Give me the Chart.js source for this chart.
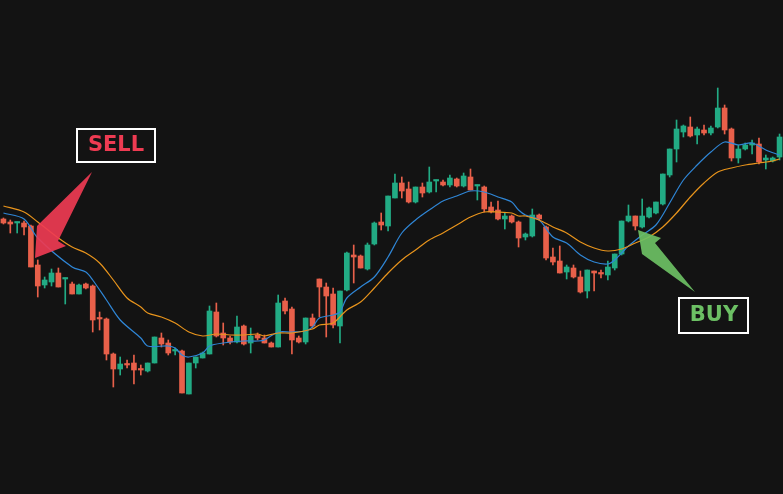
<!DOCTYPE html>
<html><head><meta charset="utf-8">
<script src="https://cdn.jsdelivr.net/npm/chart.js@4.4.1/dist/chart.umd.min.js"></script>
<style>html,body{margin:0;padding:0;background:#131313;overflow:hidden}canvas{display:block}</style>
</head><body><canvas id="c" width="783" height="494"></canvas>
<script>
// OHLC candles (price units)
const opens  = [281,278,277,277,274,235,215,218,227,221,216,206,216,214,182,181,146,131,136,137,131,129,137,162,157,149,149,106,137,142,146,188,167,162,158,174,157,165,162,157,153,199,191,162,158,182,221,213,206,174,210,245,244,231,256,278,274,302,317,311,298,313,308,319,318,315,321,314,323,314,313,293,290,281,284,278,263,264,285,273,243,239,228,232,223,209,229,227,225,232,246,279,284,273,283,287,296,325,351,368,373,365,370,367,373,392,371,342,351,355,356,340,339,343];
const highs  = [282,280,278,279,275,240,223,231,232,222,218,216,217,215,188,182,147,143,140,145,135,137,163,167,160,152,150,137,143,148,194,197,177,164,184,175,172,167,165,158,205,202,193,164,182,186,221,217,212,209,248,255,245,257,278,287,304,326,323,318,313,317,333,320,320,325,322,327,331,315,314,298,299,287,285,279,267,291,286,274,252,254,235,235,229,230,229,230,239,246,279,295,284,301,293,298,326,351,380,375,383,373,375,374,412,395,372,355,357,360,362,345,343,366];
const lows   = [276,267,267,265,233,203,212,214,213,196,206,206,211,168,170,140,113,125,132,116,125,128,137,153,145,145,107,106,132,142,146,163,155,156,157,155,147,160,157,153,153,186,146,157,156,172,183,163,172,157,209,217,232,230,255,270,269,302,302,297,297,303,307,308,314,313,313,313,310,300,288,287,280,271,277,253,260,263,280,240,235,227,221,222,207,202,209,222,220,230,245,278,270,272,282,286,295,323,338,363,363,356,365,365,372,366,339,337,350,346,336,331,338,340];
const closes = [277,276,277.5,273,233,214,220,227,213,222,206,215,212,180,181,146,131,136,135,130,130,137,163,156,147,150.5,107,137,143,147,189,164,162,158,173,156,164,162,157,153,197,189,160,158,182,174,213,204,175,209,247,243,232,255,277,275,304,317,309,298,313,307,318,319.5,315,322,314,324,310,315,291,288,281,284,278,262,266,285,281,242,238,227,233,223,208,230,227,226,233,246,279,284,274,284,292,298,326,351,371,374,364,371,367,372,392,370,342,351,355,357,338,342,342,363];
// moving averages: [candle index, value]
const fastMA = [[0,287],[3,281],[5,262],[10,233],[12,228],[13,220],[15,200],[17,180],[20,162],[21,154],[24,154],[25,152],[26,145],[27,143],[29,147],[30,154],[32,157],[35,159],[37,159],[38,160],[40,168],[42,168],[44,169],[45,173],[46,182],[48,185],[49,188],[50,202],[52,213],[54,223],[56,243],[58,267],[60,280],[62,290],[64,299],[66,304],[68,309],[70,308],[72,303],[74,298],[75,290],[76,285],[78,280],[80,263],[82,257],[84,245],[86,238],[88,236],[89,240],[91,254],[93,265],[95,275],[97,297],[99,320],[101,335],[103,348],[105,358],[107,355],[109,357],[111,350],[113,345]];
const slowMA = [[0,294],[3,288],[5,278],[8,262],[10,253],[12,247],[14,237],[16,220],[18,202],[20,193],[21,187],[23,183],[25,177],[27,168],[29,164],[31,166],[33,165],[35,165],[37,166],[38,164],[40,167],[42,167],[45,171],[46,175],[48,177],[50,190],[52,198],[54,212],[56,227],[58,240],[60,250],[62,260],[64,267],[66,275],[68,283],[70,288],[72,288],[74,287],[75,284],[76,284],[78,280],[80,273],[82,267],[84,258],[86,252],[88,249],[90,251],[92,257],[94,263],[96,273],[98,287],[100,303],[102,317],[104,328],[106,332],[108,335],[110,337],[112,339],[113,341]];
const labels = opens.map((_,i)=>String(i));
const UP='#22ab84', DOWN='#e8604a';
const col = opens.map((o,i)=>closes[i]>=o?UP:DOWN);

function poly(c,pts){c.beginPath();c.moveTo(pts[0][0],pts[0][1]);for(let i=1;i<pts.length;i++)c.lineTo(pts[i][0],pts[i][1]);c.closePath();c.fill();}
const notes = {
  id:'notes',
  afterDraw(ch){
    const c=ch.ctx; c.save();
    c.globalAlpha=0.92;
    c.fillStyle='#ee3b52';
    poly(c,[[92,172],[58,241],[66,246],[35,258],[37,226]]);
    c.fillStyle='#6cc064';
    poly(c,[[638,230],[661,238],[655,243],[695,292],[642,254]]);
    c.globalAlpha=1;
    c.lineWidth=2; c.strokeStyle='#ffffff';
    c.fillStyle='#131313';
    c.fillRect(77,129,78,33); c.strokeRect(77,129,78,33);
    c.fillRect(679,298,69,35); c.strokeRect(679,298,69,35);
    c.font='bold 21px "DejaVu Sans"'; c.textAlign='center'; c.textBaseline='middle';
    c.fillStyle='#ee3b52'; c.fillText('SELL',116,146);
    c.fillStyle='#6cc064'; c.fillText('BUY',714,316);
    c.restore();
  }
};
const bg={id:'bg',beforeDraw(ch){ch.ctx.save();ch.ctx.fillStyle='#131313';ch.ctx.fillRect(0,0,ch.width,ch.height);ch.ctx.restore();}};

new Chart(document.getElementById('c'),{
  data:{labels,datasets:[
    {type:'line',data:slowMA.map(p=>({x:String(p[0]),y:p[1]})),borderColor:'#e8941c',borderWidth:1.2,pointRadius:0,tension:0.3,order:0},
    {type:'line',data:fastMA.map(p=>({x:String(p[0]),y:p[1]})),borderColor:'#2f86d6',borderWidth:1.2,pointRadius:0,tension:0.3,order:0},
    {type:'bar',data:lows.map((l,i)=>[l,highs[i]]),backgroundColor:col,barThickness:1,grouped:false,order:2},
    {type:'bar',data:opens.map((o,i)=>[o,closes[i]]),backgroundColor:col,barThickness:5,grouped:false,minBarLength:1.5,order:1}
  ]},
  options:{responsive:false,animation:false,layout:{padding:0},
    plugins:{legend:{display:false},tooltip:{enabled:false}},
    scales:{x:{display:false,offset:true},y:{display:false,min:6,max:500}}},
  plugins:[bg,notes]
});
</script></body></html>
